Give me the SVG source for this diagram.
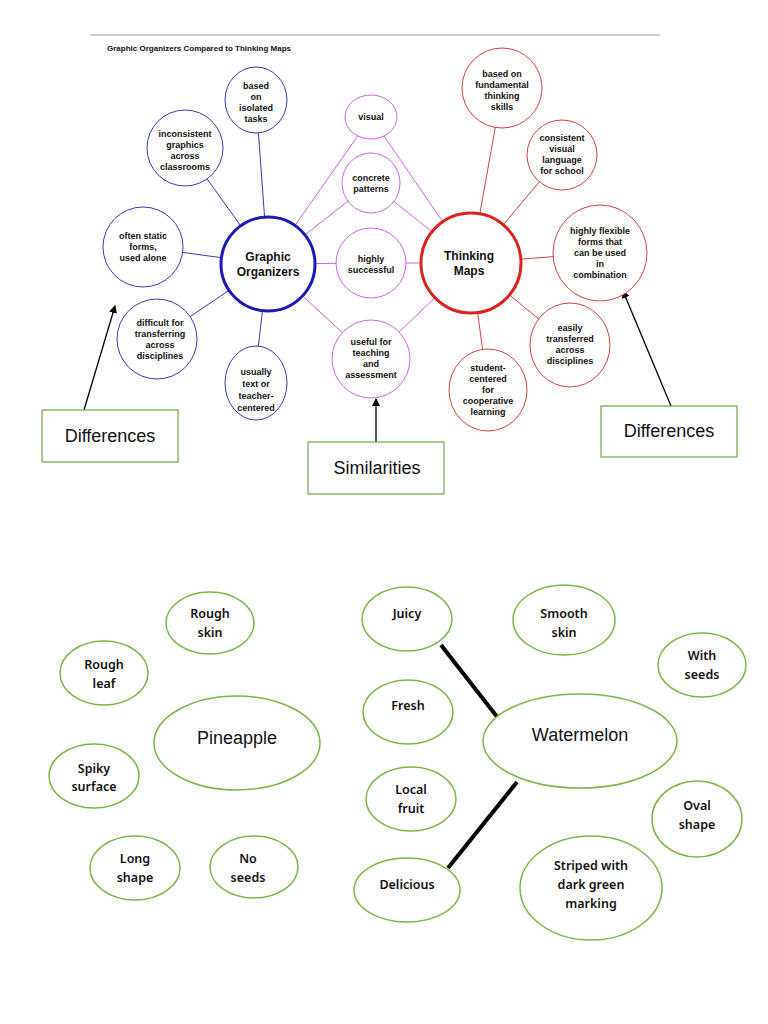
<svg xmlns="http://www.w3.org/2000/svg" width="768" height="1024" viewBox="0 0 768 1024">
<style>
text{font-family:"Liberation Sans",Arial,sans-serif;text-anchor:middle;fill:#111}
.s{font-size:9px;font-weight:bold}
.b{fill:#fff;stroke:#3a3aa8;stroke-width:1}
.p{fill:#fff;stroke:#cc66dd;stroke-width:1}
.r{fill:#fff;stroke:#cc4444;stroke-width:1}
.g{fill:#fff;stroke:#7ab648;stroke-width:1.5}
.gt{font-family:"Noto Sans","Open Sans",sans-serif;font-size:12.5px;font-weight:600}
.box{fill:#fff;stroke:#70a848;stroke-width:1.2}
.bt{font-size:18px}
</style>
<defs><marker id="ah" markerWidth="8" markerHeight="8" refX="7" refY="4" orient="auto" markerUnits="userSpaceOnUse"><path d="M0,0L8,4L0,8z" fill="#000"/></marker></defs>
<rect width="768" height="1024" fill="#fff"/>
<line x1="90" y1="35" x2="660" y2="35" stroke="#999" stroke-width="1"/>
<text x="107" y="51" style="text-anchor:start;font-size:8px;font-weight:bold">Graphic Organizers Compared to Thinking Maps</text>
<g id="connectors">
<g stroke="#3a3aa8" stroke-width="1">
<line x1="268" y1="264" x2="256" y2="100"/><line x1="268" y1="264" x2="185" y2="148"/><line x1="268" y1="264" x2="143" y2="247"/><line x1="268" y1="264" x2="157" y2="339"/><line x1="268" y1="264" x2="254" y2="383"/>
</g>
<g stroke="#cc66dd" stroke-width="1">
<line x1="268" y1="264" x2="371" y2="117"/><line x1="268" y1="264" x2="371" y2="183"/><line x1="268" y1="264" x2="371" y2="263"/><line x1="268" y1="264" x2="371" y2="359"/>
<line x1="471" y1="263" x2="371" y2="117"/><line x1="471" y1="263" x2="371" y2="183"/><line x1="471" y1="263" x2="371" y2="263"/><line x1="471" y1="263" x2="371" y2="359"/>
</g>
<g stroke="#cc4444" stroke-width="1">
<line x1="471" y1="263" x2="502" y2="90"/><line x1="471" y1="263" x2="562" y2="155"/><line x1="471" y1="263" x2="600" y2="253"/><line x1="471" y1="263" x2="570" y2="345"/><line x1="471" y1="263" x2="488" y2="390"/>
</g>
<g stroke="#000" stroke-width="1.3" marker-end="url(#ah)">
<line x1="84" y1="410" x2="115" y2="306"/><line x1="376" y1="442" x2="376" y2="399"/><line x1="671" y1="406" x2="623" y2="291"/>
</g>
<g stroke="#000" stroke-width="4"><line x1="441" y1="645" x2="498" y2="718"/><line x1="517" y1="782" x2="448" y2="868"/></g>
</g>
<g id="go"><circle cx="268" cy="264" r="47" fill="#fff" stroke="#1a1ab8" stroke-width="3"/><text x="268" y="261" style="font-size:12px;font-weight:bold">Graphic</text><text x="268" y="276" style="font-size:12px;font-weight:bold">Organizers</text></g>
<g id="tm"><circle cx="471" cy="263" r="50" fill="#fff" stroke="#dd2222" stroke-width="3"/><text x="469" y="260" style="font-size:12px;font-weight:bold">Thinking</text><text x="469" y="275" style="font-size:12px;font-weight:bold">Maps</text></g>
<g id="b1"><ellipse class="b" cx="256" cy="100" rx="31" ry="33"/><text class="s" x="256" y="89">based</text><text class="s" x="256" y="100">on</text><text class="s" x="256" y="111">isolated</text><text class="s" x="256" y="122">tasks</text></g>
<g id="b2"><circle class="b" cx="185" cy="148" r="38"/><text class="s" x="185" y="137">inconsistent</text><text class="s" x="185" y="148">graphics</text><text class="s" x="185" y="159">across</text><text class="s" x="185" y="170">classrooms</text></g>
<g id="b3"><circle class="b" cx="143" cy="247" r="40"/><text class="s" x="143" y="239">often static</text><text class="s" x="143" y="250">forms,</text><text class="s" x="143" y="261">used alone</text></g>
<g id="b4"><circle class="b" cx="157" cy="339" r="40"/><text class="s" x="160" y="326">difficult for</text><text class="s" x="160" y="337">transferring</text><text class="s" x="160" y="348">across</text><text class="s" x="160" y="359">disciplines</text></g>
<g id="b5"><ellipse class="b" cx="256" cy="383" rx="31" ry="37"/><text class="s" x="256" y="375">usually</text><text class="s" x="256" y="387">text or</text><text class="s" x="256" y="399">teacher-</text><text class="s" x="256" y="411">centered</text></g>
<g id="p1"><ellipse class="p" cx="371" cy="117" rx="26" ry="22"/><text class="s" x="371" y="120">visual</text></g>
<g id="p2"><ellipse class="p" cx="371" cy="183" rx="29" ry="30"/><text class="s" x="371" y="181">concrete</text><text class="s" x="371" y="192">patterns</text></g>
<g id="p3"><ellipse class="p" cx="371" cy="263" rx="35" ry="35"/><text class="s" x="371" y="262">highly</text><text class="s" x="371" y="273">successful</text></g>
<g id="p4"><ellipse class="p" cx="371" cy="359" rx="39" ry="39"/><text class="s" x="371" y="345">useful for</text><text class="s" x="371" y="356">teaching</text><text class="s" x="371" y="367">and</text><text class="s" x="371" y="378">assessment</text></g>
<g id="r1"><circle class="r" cx="502" cy="88" r="40"/><text class="s" x="502" y="77">based on</text><text class="s" x="502" y="88">fundamental</text><text class="s" x="502" y="99">thinking</text><text class="s" x="502" y="110">skills</text></g>
<g id="r2"><ellipse class="r" cx="562" cy="155" rx="35" ry="35"/><text class="s" x="562" y="141">consistent</text><text class="s" x="562" y="152">visual</text><text class="s" x="562" y="163">language</text><text class="s" x="562" y="174">for school</text></g>
<g id="r3"><ellipse class="r" cx="600" cy="253" rx="47" ry="48"/><text class="s" x="600" y="234">highly flexible</text><text class="s" x="600" y="245">forms that</text><text class="s" x="600" y="256">can be used</text><text class="s" x="600" y="267">in</text><text class="s" x="600" y="278">combination</text></g>
<g id="r4"><ellipse class="r" cx="570" cy="345" rx="40" ry="42"/><text class="s" x="570" y="331">easily</text><text class="s" x="570" y="342">transferred</text><text class="s" x="570" y="353">across</text><text class="s" x="570" y="364">disciplines</text></g>
<g id="r5"><ellipse class="r" cx="488" cy="390" rx="39" ry="41"/><text class="s" x="488" y="371">student-</text><text class="s" x="488" y="382">centered</text><text class="s" x="488" y="393">for</text><text class="s" x="488" y="404">cooperative</text><text class="s" x="488" y="415">learning</text></g>
<g id="d1"><rect class="box" x="42" y="410" width="136" height="52"/><text class="bt" x="110" y="442">Differences</text></g>
<g id="sim"><rect class="box" x="308" y="442" width="136" height="52"/><text class="bt" x="377" y="474">Similarities</text></g>
<g id="d2"><rect class="box" x="601" y="406" width="136" height="51"/><text class="bt" x="669" y="437">Differences</text></g>
<g id="pine"><ellipse class="g" cx="237" cy="743" rx="83" ry="47"/><text x="237" y="744" style="font-size:18px">Pineapple</text></g>
<g id="n1"><ellipse class="g" cx="210" cy="623" rx="44" ry="31"/><text class="gt" x="210" y="618">Rough</text><text class="gt" x="210" y="637">skin</text></g>
<g id="n2"><ellipse class="g" cx="104" cy="673" rx="44" ry="32"/><text class="gt" x="104" y="669">Rough</text><text class="gt" x="104" y="688">leaf</text></g>
<g id="n3"><ellipse class="g" cx="94" cy="776" rx="45" ry="32"/><text class="gt" x="94" y="773">Spiky</text><text class="gt" x="94" y="791">surface</text></g>
<g id="n4"><ellipse class="g" cx="135" cy="868" rx="45" ry="32"/><text class="gt" x="135" y="863">Long</text><text class="gt" x="135" y="882">shape</text></g>
<g id="n5"><ellipse class="g" cx="254" cy="867" rx="44" ry="31"/><text class="gt" x="248" y="863">No</text><text class="gt" x="248" y="882">seeds</text></g>
<g id="wm"><ellipse class="g" cx="580" cy="741" rx="97" ry="47"/><text x="580" y="741" style="font-size:18px">Watermelon</text></g>
<g id="w1"><ellipse class="g" cx="407" cy="619" rx="45" ry="32"/><text class="gt" x="407" y="618">Juicy</text></g>
<g id="w2"><ellipse class="g" cx="564" cy="620" rx="51" ry="35"/><text class="gt" x="564" y="618">Smooth</text><text class="gt" x="564" y="637">skin</text></g>
<g id="w3"><ellipse class="g" cx="702" cy="665" rx="44" ry="32"/><text class="gt" x="702" y="660">With</text><text class="gt" x="702" y="679">seeds</text></g>
<g id="w4"><ellipse class="g" cx="408" cy="712" rx="45" ry="32"/><text class="gt" x="408" y="710">Fresh</text></g>
<g id="w5"><ellipse class="g" cx="411" cy="799" rx="45" ry="32"/><text class="gt" x="411" y="794">Local</text><text class="gt" x="411" y="813">fruit</text></g>
<g id="w6"><ellipse class="g" cx="697" cy="819" rx="45" ry="38"/><text class="gt" x="697" y="810">Oval</text><text class="gt" x="697" y="829">shape</text></g>
<g id="w7"><ellipse class="g" cx="407" cy="890" rx="53" ry="32"/><text class="gt" x="407" y="889">Delicious</text></g>
<g id="w8"><ellipse class="g" cx="591" cy="888" rx="71" ry="52"/><text class="gt" x="591" y="870">Striped with</text><text class="gt" x="591" y="889">dark green</text><text class="gt" x="591" y="908">marking</text></g>
</svg>
